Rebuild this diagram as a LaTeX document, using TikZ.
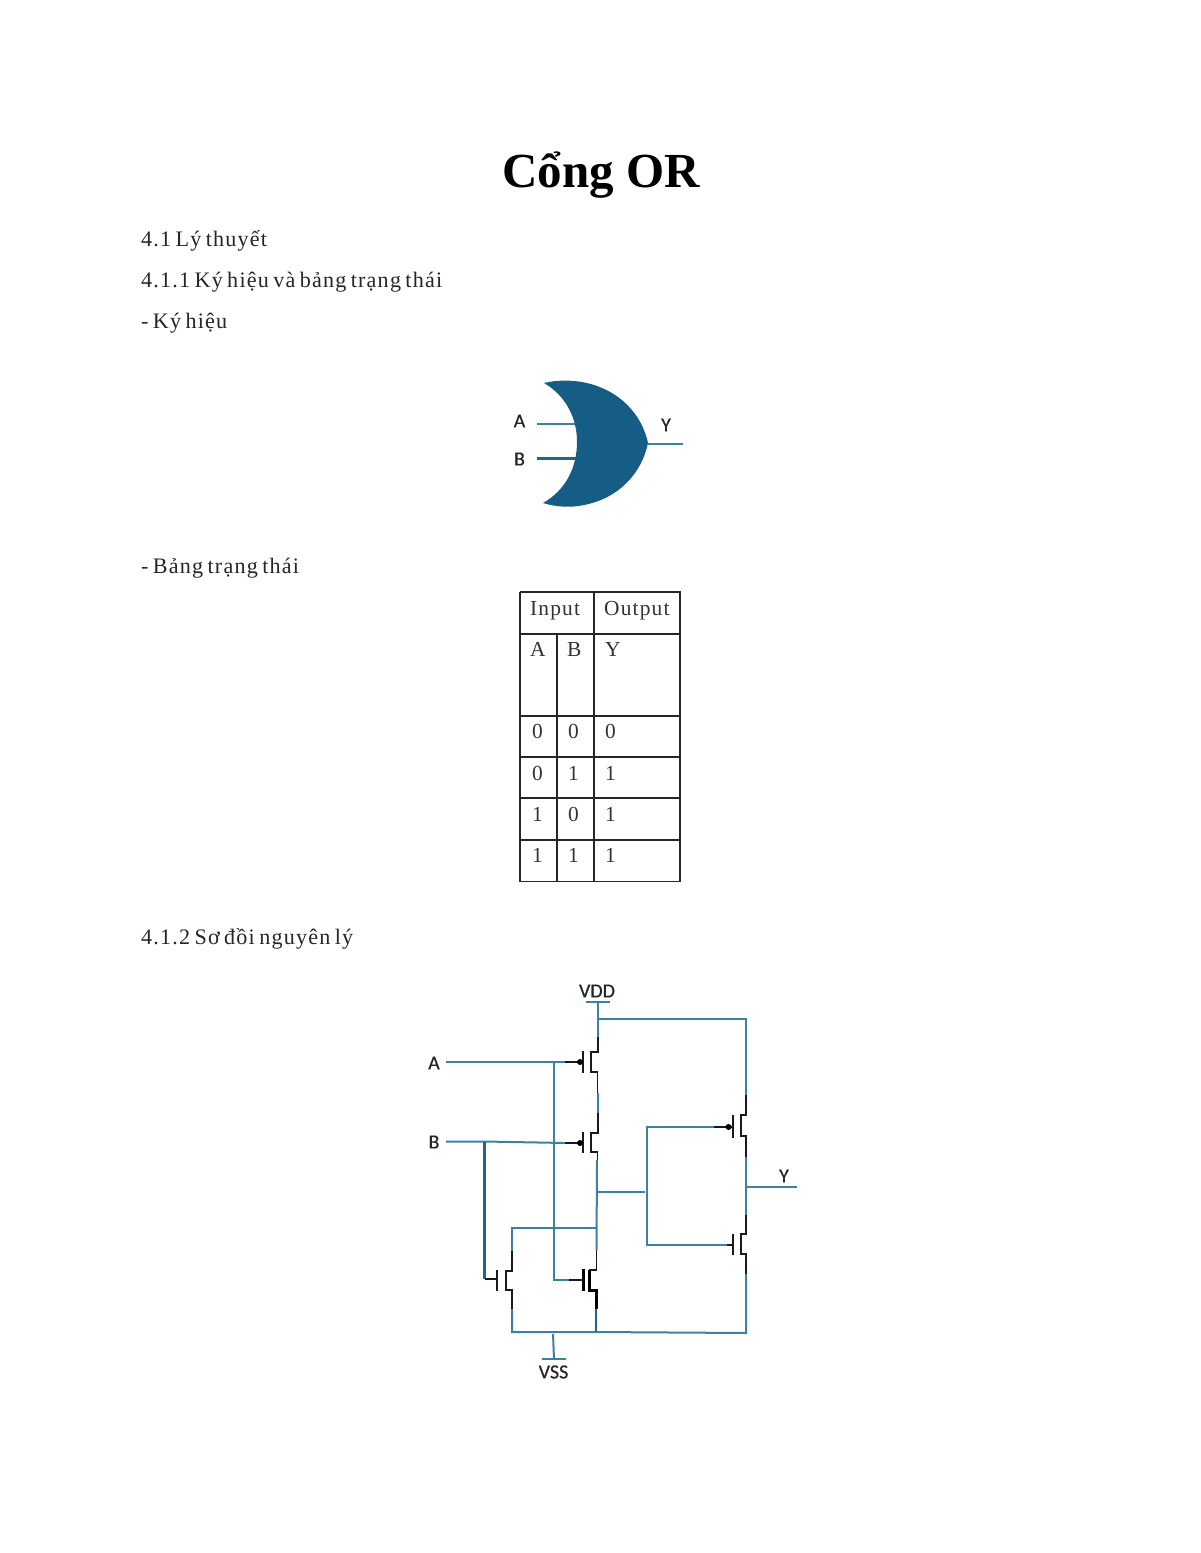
\documentclass[tikz,border=0pt]{standalone}
\usepackage{fontspec}
\setmainfont{Liberation Serif}
\newfontfamily\lblfont[FakeBold=0.5]{Carlito}
\newfontfamily\bodyfont[LetterSpace=5.5,WordSpace=0.65]{Liberation Serif}
\definecolor{gatefill}{HTML}{155D84}
\definecolor{wireblue}{HTML}{3F80A0}
\definecolor{wiredark}{HTML}{1F668C}
\definecolor{inkblack}{HTML}{1A1A1A}
\tikzset{
  x=1pt,y=-1pt,
  body/.style={anchor=base west,inner sep=0pt,font=\bodyfont\fontsize{22.1pt}{24pt}\selectfont,text=black!85},
  cell/.style={anchor=base west,inner sep=0pt,font=\bodyfont\fontsize{21.4pt}{24pt}\selectfont,text=black!80},
  lbl/.style={inner sep=0pt,font=\lblfont\fontsize{20pt}{22pt}\selectfont,text=black!85},
  wire/.style={draw=wireblue,line width=2pt},
  thick wire/.style={draw=wiredark,line width=2.6pt},
  fet/.style={draw=inkblack,line width=1.8pt},
  heavy fet/.style={draw=black,line width=3pt},
  dotnode/.style={circle,fill=black,inner sep=0pt,minimum size=6pt},
  tbl/.style={draw=black!85,line width=1.5pt}
}
\begin{document}
\begin{tikzpicture}
\useasboundingbox[fill=white] (0,0) rectangle (1200,1553);
% text
\node[anchor=base,inner sep=0pt,font=\bfseries\fontsize{49pt}{52pt}\selectfont] (title) at (601,187) {Cổng OR};
\node[body] (t1) at (141,246) {4.1 Lý thuyết};
\node[body] (t2) at (141,287) {4.1.1 Ký hiệu và bảng trạng thái};
\node[body] (t3) at (141,328) {- Ký hiệu};
\node[body] (t4) at (141,573) {- Bảng trạng thái};
\node[body] (t5) at (141,944) {4.1.2 Sơ đồi nguyên lý};
% OR symbol
\fill[gatefill] (544,383) .. controls (556,380) and (570,380) .. (582,382)
  .. controls (620,389) and (642,415) .. (648,443)
  .. controls (642,472) and (620,498) .. (584,505)
  .. controls (570,508) and (556,507) .. (543,503)
  .. controls (566,490) and (577,467) .. (577,442)
  .. controls (577,418) and (566,396) .. (544,383) -- cycle;
\coordinate (orA) at (537,424); \coordinate (orAe) at (575,424);
\coordinate (orB) at (537,458.5); \coordinate (orBe) at (577,458.5);
\coordinate (orY) at (648,444); \coordinate (orYe) at (683,444);
\draw[wire] (orA) -- (orAe);
\draw[thick wire] (orB) -- (orBe);
\draw[wire] (orY) -- (orYe);
\node[lbl] (sa) at (519.5,421) {A};
\node[lbl] (sb) at (519.5,459) {B};
\node[lbl] (sy) at (666,425) {Y};
% table
\draw[tbl] (520,592) -- (681,592) (520,634) -- (681,634) (520,716) -- (681,716)
  (520,757) -- (681,757) (520,798) -- (681,798) (520,840) -- (681,840) (520,881.5) -- (681,881.5);
\draw[tbl] (520,592) -- (520,882) (594,592) -- (594,882) (680,592) -- (680,882) (557,634) -- (557,882);
\node[cell] (hI) at (530,615) {Input};
\node[cell] (hO) at (604,615) {Output};
\node[cell] (hA) at (530,656) {A};
\node[cell] (hB) at (567,656) {B};
\node[cell] (hY) at (605,656) {Y};
\node[cell] (a1) at (532,738) {0};\node[cell] (b1) at (568,738) {0};\node[cell] (y1) at (605,738) {0};
\node[cell] (a2) at (532,780) {0};\node[cell] (b2) at (568,780) {1};\node[cell] (y2) at (605,780) {1};
\node[cell] (a3) at (532,821) {1};\node[cell] (b3) at (568,821) {0};\node[cell] (y3) at (605,821) {1};
\node[cell] (a4) at (532,862) {1};\node[cell] (b4) at (568,862) {1};\node[cell] (y4) at (605,862) {1};
% circuit labels
\node[lbl] (vdd) at (597,991) {VDD};
\node[lbl] (vss) at (553.5,1372) {VSS};
\node[lbl] (inA) at (434,1063) {A};
\node[lbl] (inB) at (434,1142) {B};
\node[lbl] (outY) at (784,1176) {Y};
% blue wires
\coordinate (ddbar1) at (586,1002); \coordinate (ddbar2) at (610,1002);
\coordinate (ddr) at (598,1002); \coordinate (ddtop) at (598,1019); \coordinate (ddcorner) at (746,1019);
\draw[wire] (ddbar1) -- (ddbar2);
\draw[wire] (ddr) -- (598,1037);
\draw[wire] (ddtop) -- (ddcorner) -- (746,1095);
\coordinate (Ain) at (446,1062); \coordinate (Agate) at (565,1062);
\coordinate (Atap) at (554,1062); \coordinate (Anmos) at (569,1280);
\draw[wire] (Ain) -- (Agate);
\draw[wire] (Atap) -- (554,1280) -- (Anmos);
\coordinate (Bin) at (446,1141.5); \coordinate (Bgate) at (565,1143); \coordinate (Btap) at (484.5,1141.5);
\draw[wire] (Bin) -- (Btap) -- (Bgate);
\draw[thick wire] (Btap) -- (484.5,1279);
\draw[wire] (597.5,1093) -- (597.5,1113);
\draw[wire] (597,1160) -- (596.5,1250);
\draw[wire] (512,1251) -- (512,1228) -- (596.5,1228);
\coordinate (ssl) at (512,1332);\coordinate (ssm) at (596,1332);\coordinate (ssr) at (746,1333);
\draw[wire] (512,1309) -- (ssl) -- (ssm) -- (ssr) -- (746,1274);
\draw[thick wire] (596,1309) -- (ssm);
\coordinate (sstap) at (553,1334); \coordinate (ssbar) at (554,1359);
\draw[wire] (sstap) -- (ssbar);
\draw[wire] (542,1359) -- (566,1359);
\coordinate (midL) at (597,1192); \coordinate (midR) at (645,1192);
\draw[wire] (midL) -- (midR);
\coordinate (Gp) at (714,1127); \coordinate (Gn) at (727,1245); \coordinate (Gc) at (647,1127);
\draw[wire] (Gp) -- (Gc) -- (647,1245) -- (Gn);
\draw[wire] (746,1157) -- (746,1215);
\coordinate (Yt) at (746,1187); \coordinate (Ye) at (797,1187);
\draw[wire] (Yt) -- (Ye);
% transistors
\draw[fet] (598,1037) -- (598,1052) -- (591,1052) -- (591,1072) -- (597.5,1072) -- (597.5,1093);
\draw[fet] (583,1051) -- (583,1073);
\draw[fet] (Agate) -- (583,1062);
\node[dotnode] (dA) at (580,1062) {};
\draw[fet] (598,1113) -- (598,1133) -- (591,1133) -- (591,1152) -- (597.5,1152) -- (597.5,1160);
\draw[fet] (583,1132) -- (583,1153);
\draw[fet] (Bgate) -- (583,1143);
\node[dotnode] (dB) at (580,1143) {};
\draw[fet] (Btap |- 0,1279) -- (497,1279);
\draw[fet] (497,1270) -- (497,1291);
\draw[fet] (512,1251) -- (512,1271) -- (506,1271) -- (506,1290) -- (512,1290) -- (512,1309);
\draw[fet] (596.5,1250) -- (596.5,1270) -- (589,1270);
\draw[heavy fet] (589,1270) -- (589,1290) -- (596,1290) -- (596,1309);
\draw[heavy fet] (583,1269) -- (583,1291);
\draw[fet] (Anmos) -- (583,1280);
\draw[fet] (746,1095) -- (746,1115) -- (741,1115) -- (741,1136) -- (746,1136) -- (746,1157);
\draw[fet] (733,1115) -- (733,1138);
\draw[fet] (Gp) -- (733,1127);
\node[dotnode] (dP) at (728.5,1127) {};
\draw[fet] (746,1215) -- (746,1234) -- (741,1234) -- (741,1254) -- (746,1254) -- (746,1274);
\draw[fet] (733,1234) -- (733,1255);
\draw[fet] (Gn) -- (733,1245);
\end{tikzpicture}
\end{document}
